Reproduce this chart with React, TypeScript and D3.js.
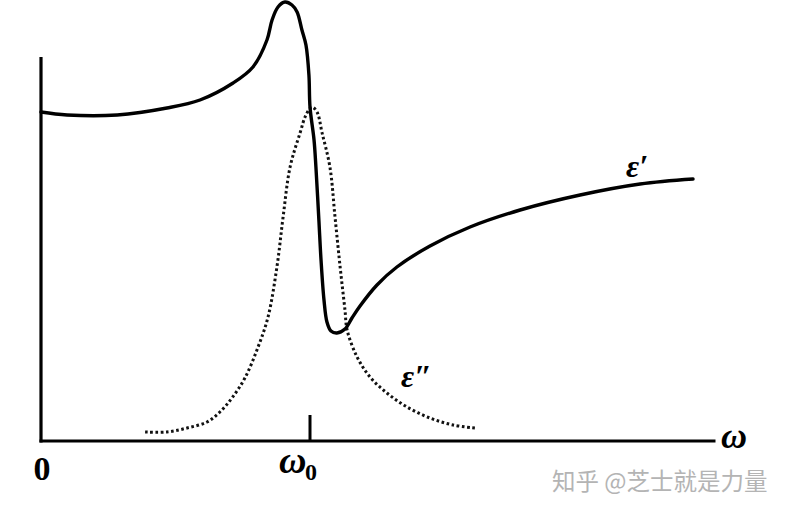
import React from "react";
import * as d3 from "d3";

// Data in arbitrary units: omega (omega0 = 1), epsilon (relative)
const epsRealOmega = [0, 0.097, 0.283, 0.468, 0.591, 0.714, 0.788, 0.840, 0.859, 0.881, 0.907, 0.933, 0.952, 0.970, 0.985, 0.996, 1.0, 1.015, 1.022, 1.033, 1.041, 1.052, 1.063, 1.078, 1.100, 1.130, 1.156, 1.186, 1.249, 1.323, 1.446, 1.595, 1.781, 2.004, 2.227, 2.424];
const epsRealValue = [3.29, 3.26, 3.26, 3.33, 3.41, 3.58, 3.74, 4.01, 4.21, 4.34, 4.39, 4.36, 4.29, 4.11, 3.96, 3.66, 3.34, 3.01, 2.74, 2.21, 1.81, 1.41, 1.19, 1.10, 1.08, 1.12, 1.23, 1.35, 1.56, 1.74, 1.95, 2.14, 2.31, 2.46, 2.57, 2.62];

const epsImagOmega = [0.387, 0.468, 0.543, 0.617, 0.665, 0.710, 0.758, 0.807, 0.844, 0.877, 0.900, 0.926, 0.963, 0.985, 1.007, 1.026, 1.045, 1.074, 1.093, 1.112, 1.130, 1.138, 1.175, 1.223, 1.286, 1.361, 1.446, 1.532, 1.613];
const epsImagValue = [0.09, 0.09, 0.13, 0.19, 0.29, 0.43, 0.63, 0.94, 1.24, 1.74, 2.24, 2.74, 3.08, 3.26, 3.34, 3.29, 3.08, 2.74, 2.24, 1.74, 1.31, 1.11, 0.84, 0.64, 0.48, 0.34, 0.23, 0.16, 0.13];

const tickOmega = [1];

export default function App() {
  const W = 788, H = 514;
  const x = d3.scaleLinear().domain([0, 1]).range([41, 310]);
  const y = d3.scaleLinear().domain([0, 1]).range([441, 341]);

  const line = d3
    .line<[number, number]>()
    .x((d) => x(d[0]))
    .y((d) => y(d[1]))
    .curve(d3.curveCatmullRom.alpha(0.5));

  const realPts = epsRealOmega.map((w, i) => [w, epsRealValue[i]] as [number, number]);
  const imagPts = epsImagOmega.map((w, i) => [w, epsImagValue[i]] as [number, number]);

  const x0 = x(0);
  const xEnd = x(2.5);
  const yTop = y(3.84);

  return (
    <svg
      width={W}
      height={H}
      viewBox={`0 0 ${W} ${H}`}
      style={{ position: "fixed", left: 0, top: 0, background: "#fff" }}
    >
      <rect x={0} y={0} width={W} height={H} fill="#fff" />
      {/* axes */}
      <line x1={x0} y1={yTop} x2={x0} y2={y(0) + 1.5} stroke="#000" strokeWidth={3.2} />
      <line x1={x0 - 1.5} y1={y(0)} x2={xEnd + 2} y2={y(0)} stroke="#000" strokeWidth={3.2} />
      {tickOmega.map((t) => (
        <line key={t} x1={x(t)} y1={y(0)} x2={x(t)} y2={y(0) - 26} stroke="#000" strokeWidth={3} />
      ))}

      {/* epsilon'' dotted */}
      <path
        d={line(imagPts) || ""}
        fill="none"
        stroke="#111"
        strokeWidth={3}
        strokeDasharray="2.6 2.6"
      />
      {/* epsilon' solid */}
      <path
        d={line(realPts) || ""}
        fill="none"
        stroke="#000"
        strokeWidth={3.4}
        strokeLinejoin="round"
        strokeLinecap="round"
      />

      {/* labels */}
      <g fontFamily="'Liberation Serif', 'DejaVu Serif', serif" fill="#000">
        <text x={x0 + 1} y={480} fontSize={34} fontWeight="bold" textAnchor="middle">0</text>
        <text x={279} y={473} fontSize={38} fontWeight="bold" fontStyle="italic">ω</text>
        <text x={305} y={480} fontSize={24} fontWeight="bold">0</text>
        <text x={721} y={448} fontSize={36} fontWeight="bold" fontStyle="italic">ω</text>
        <text x={626} y={177} fontSize={32} fontWeight="bold" fontStyle="italic">ε′</text>
        <text x={401} y={387} fontSize={32} fontWeight="bold" fontStyle="italic">ε″</text>
      </g>

      {/* watermark */}
      <text
        x={552}
        y={490}
        fontSize={23.5}
        fill="#b4b4b4"
        fontFamily="'Noto Sans CJK SC', sans-serif"
      >
        知乎 @芝士就是力量
      </text>
    </svg>
  );
}
